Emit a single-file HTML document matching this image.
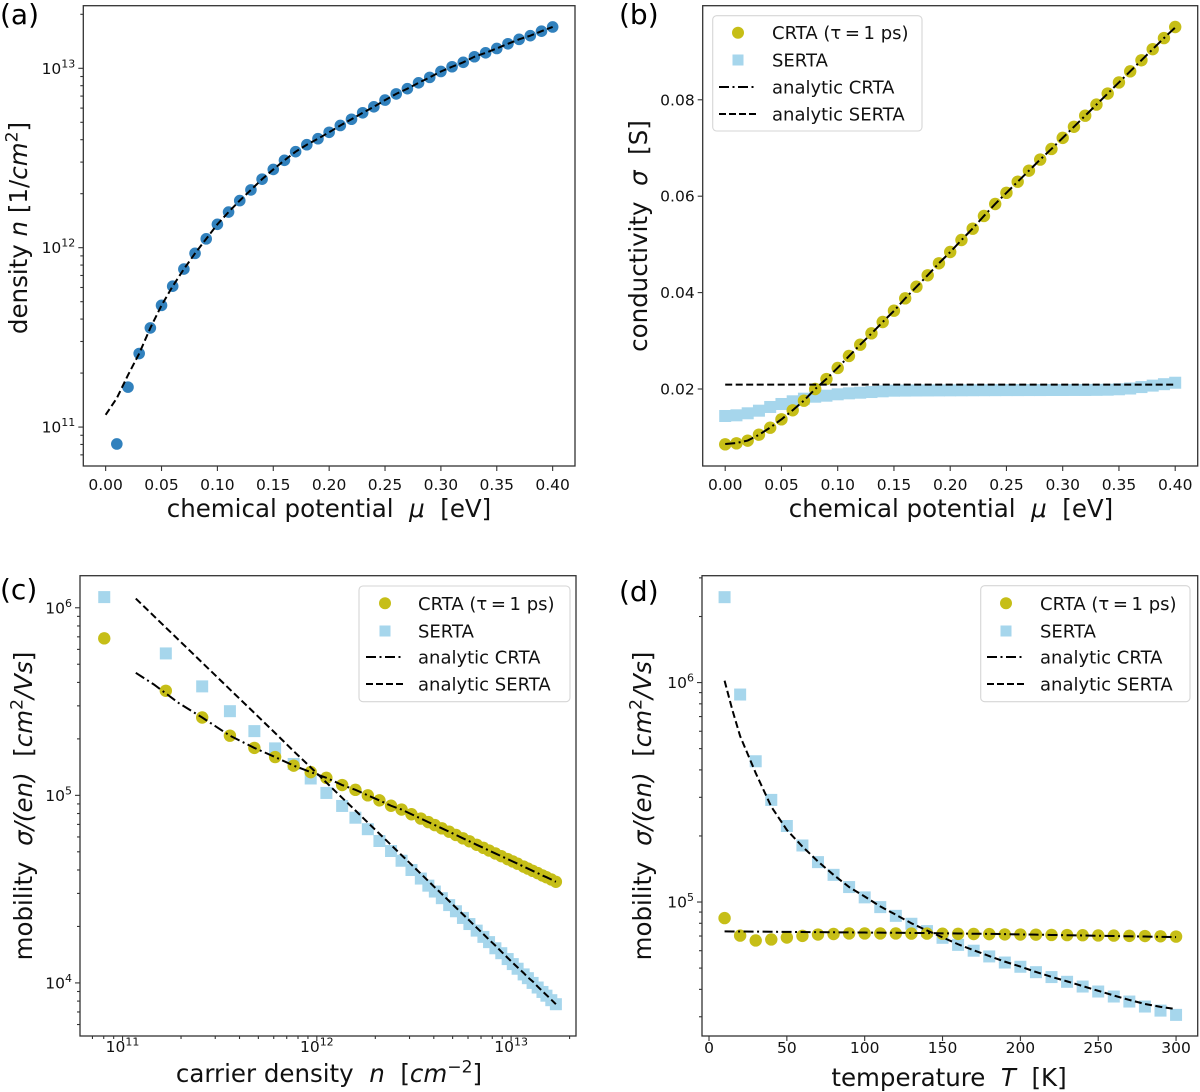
<!DOCTYPE html>
<html><head><meta charset="utf-8"><title>Transport figure</title>
<style>
html,body{margin:0;padding:0;background:#fff;}
svg{display:block;font-family:"DejaVu Sans","Liberation Sans",sans-serif;}
text{white-space:pre;}
</style></head>
<body>
<svg id="chart" xmlns="http://www.w3.org/2000/svg" width="1200" height="1092" viewBox="0 0 1200 1092"></svg>
<script>
// ---------- Panel (a) data ----------
const muA = [0.01,0.02,0.03,0.04,0.05,0.06,0.07,0.08,0.09,0.10,0.11,0.12,0.13,0.14,0.15,0.16,0.17,0.18,0.19,0.20,0.21,0.22,0.23,0.24,0.25,0.26,0.27,0.28,0.29,0.30,0.31,0.32,0.33,0.34,0.35,0.36,0.37,0.38,0.39,0.40];
const densA = [8.05e10,1.67e11,2.57e11,3.57e11,4.77e11,6.1e11,7.6e11,9.3e11,1.12e12,1.35e12,1.58e12,1.83e12,2.1e12,2.41e12,2.73e12,3.07e12,3.43e12,3.75e12,4.05e12,4.4e12,4.8e12,5.2e12,5.65e12,6.1e12,6.65e12,7.2e12,7.7e12,8.3e12,8.9e12,9.6e12,1.02e13,1.08e13,1.16e13,1.22e13,1.29e13,1.37e13,1.45e13,1.52e13,1.61e13,1.70e13];
const muAn = [0.00,0.01,0.02,0.03,0.04,0.05,0.06,0.07,0.08,0.09,0.10,0.11,0.12,0.13,0.14,0.15,0.16,0.17,0.18,0.19,0.20,0.21,0.22,0.23,0.24,0.25,0.26,0.27,0.28,0.29,0.30,0.31,0.32,0.33,0.34,0.35,0.36,0.37,0.38,0.39,0.40];
const densAn = [1.17e11,1.45e11,1.95e11,2.57e11,3.57e11,4.77e11,6.1e11,7.6e11,9.3e11,1.12e12,1.35e12,1.58e12,1.83e12,2.1e12,2.41e12,2.73e12,3.07e12,3.43e12,3.75e12,4.05e12,4.4e12,4.8e12,5.2e12,5.65e12,6.1e12,6.65e12,7.2e12,7.7e12,8.3e12,8.9e12,9.6e12,1.02e13,1.08e13,1.16e13,1.22e13,1.29e13,1.37e13,1.45e13,1.52e13,1.61e13,1.70e13];
const muTicks = [0.00,0.05,0.10,0.15,0.20,0.25,0.30,0.35,0.40];
const muTickLabels = ["0.00","0.05","0.10","0.15","0.20","0.25","0.30","0.35","0.40"];
const densTickExp = [11,12,13];

// ---------- Panel (b) data ----------
const muB = [0.00,0.01,0.02,0.03,0.04,0.05,0.06,0.07,0.08,0.09,0.10,0.11,0.12,0.13,0.14,0.15,0.16,0.17,0.18,0.19,0.20,0.21,0.22,0.23,0.24,0.25,0.26,0.27,0.28,0.29,0.30,0.31,0.32,0.33,0.34,0.35,0.36,0.37,0.38,0.39,0.40];
const crtaB = [0.00852,0.00873,0.00928,0.01052,0.01197,0.01371,0.01558,0.01757,0.0200,0.02207,0.02436,0.02685,0.02919,0.03155,0.0339,0.03624,0.03881,0.04122,0.04359,0.04608,0.04842,0.05091,0.05326,0.0559,0.05838,0.0607,0.0630,0.0653,0.0676,0.0698,0.0721,0.0744,0.0767,0.0790,0.0813,0.0836,0.0859,0.0882,0.0905,0.0928,0.0951];
const crtaAnB = [0.0086,0.0088,0.0093,0.0105,0.0120,0.0137,0.0156,0.0176,0.0200,0.0221,0.0244,0.0268,0.0292,0.0315,0.0339,0.0362,0.0388,0.0412,0.0436,0.0461,0.0484,0.0509,0.0533,0.0559,0.0584,0.0607,0.0630,0.0653,0.0676,0.0698,0.0721,0.0744,0.0767,0.0790,0.0813,0.0836,0.0859,0.0882,0.0905,0.0928,0.0950];
const sertaB = [0.0144,0.01454,0.01496,0.0155,0.01627,0.01689,0.01745,0.01799,0.0184,0.01861,0.0189,0.0191,0.01923,0.01937,0.01952,0.01965,0.01967,0.01969,0.0197,0.01971,0.01972,0.01973,0.01974,0.01975,0.01976,0.01977,0.01977,0.01978,0.01978,0.01979,0.01979,0.0198,0.0198,0.01982,0.01985,0.01994,0.0201,0.0204,0.0207,0.0210,0.0213];
const muAnSertaB = [0.00,0.40];
const sertaAnB = [0.0209,0.0209];
const condTicks = [0.02,0.04,0.06,0.08];
const condTickLabels = ["0.02","0.04","0.06","0.08"];

// ---------- Panel (c) data ----------
const crtaC = [6.87e5,3.61e5,2.6e5,2.08e5,1.79e5,1.6e5,1.44e5,1.33e5,1.24e5,1.135e5,1.07e5,1.0e5,9.4e4,8.8e4,8.4e4,7.93e4,7.52e4,7.2e4,6.94e4,6.67e4,6.4e4,6.15e4,5.9e4,5.69e4,5.45e4,5.25e4,5.08e4,4.9e4,4.74e4,4.57e4,4.44e4,4.32e4,4.17e4,4.07e4,3.96e4,3.85e4,3.74e4,3.66e4,3.56e4,3.46e4];
const sertaC = [1.14e6,5.71e5,3.81e5,2.81e5,2.2e5,1.78e5,1.47e5,1.23e5,1.03e5,8.78e4,7.6e4,6.6e4,5.71e4,5.05e4,4.48e4,4.0e4,3.6e4,3.3e4,3.07e4,2.83e4,2.6e4,2.41e4,2.22e4,2.06e4,1.9e4,1.76e4,1.65e4,1.53e4,1.44e4,1.34e4,1.26e4,1.19e4,1.11e4,1.06e4,1.0e4,9.45e3,8.95e3,8.55e3,8.09e3,7.7e3];
const crtaAnC = [4.5e5,3.9e5,3.1e5,2.6e5,2.08e5,1.79e5,1.6e5,1.44e5,1.33e5,1.24e5,1.135e5,1.07e5,1.0e5,9.4e4,8.8e4,8.4e4,7.93e4,7.52e4,7.2e4,6.94e4,6.67e4,6.4e4,6.15e4,5.9e4,5.69e4,5.45e4,5.25e4,5.08e4,4.9e4,4.74e4,4.57e4,4.44e4,4.32e4,4.17e4,4.07e4,3.96e4,3.85e4,3.74e4,3.66e4,3.56e4,3.46e4];
const sertaAnC = [1.12e6,9.03e5,6.72e5,5.1e5,3.67e5,2.75e5,2.15e5,1.72e5,1.41e5,1.17e5,9.7e4,8.3e4,7.16e4,6.24e4,5.44e4,4.8e4,4.27e4,3.82e4,3.49e4,3.23e4,2.98e4,2.73e4,2.52e4,2.32e4,2.15e4,1.97e4,1.82e4,1.70e4,1.58e4,1.47e4,1.36e4,1.28e4,1.21e4,1.13e4,1.07e4,1.02e4,9.56e3,9.03e3,8.62e3,8.14e3,7.7e3];
const nTickExp = [11,12,13];
const mobTickExpC = [4,5,6];

// ---------- Panel (d) data ----------
const tempD = [10,20,30,40,50,60,70,80,90,100,110,120,130,140,150,160,170,180,190,200,210,220,230,240,250,260,270,280,290,300];
const sertaD = [2.45e6,8.82e5,4.38e5,2.92e5,2.22e5,1.81e5,1.52e5,1.33e5,1.17e5,1.05e5,9.48e4,8.65e4,7.96e4,7.37e4,6.87e4,6.38e4,6.0e4,5.65e4,5.3e4,5.07e4,4.79e4,4.55e4,4.33e4,4.12e4,3.91e4,3.71e4,3.52e4,3.34e4,3.2e4,3.06e4];
const crtaD = [8.45e4,7.03e4,6.68e4,6.75e4,6.89e4,7.01e4,7.11e4,7.15e4,7.19e4,7.19e4,7.19e4,7.19e4,7.18e4,7.18e4,7.17e4,7.16e4,7.15e4,7.14e4,7.12e4,7.11e4,7.10e4,7.08e4,7.07e4,7.06e4,7.04e4,7.03e4,7.01e4,7.0e4,6.98e4,6.96e4];
const tempAnD = [10,15,20,30,40,50,60,70,80,90,100,110,120,130,140,150,160,170,180,190,200,210,220,230,240,250,260,270,280,290,300];
const sertaAnD = [1.02e6,7.5e5,5.7e5,3.87e5,2.72e5,2.13e5,1.79e5,1.53e5,1.33e5,1.17e5,1.06e5,9.55e4,8.75e4,8.0e4,7.42e4,6.9e4,6.42e4,6.03e4,5.67e4,5.35e4,5.08e4,4.8e4,4.56e4,4.35e4,4.14e4,3.94e4,3.75e4,3.58e4,3.43e4,3.33e4,3.25e4];
const crtaAnD = [7.35e4,7.34e4,7.34e4,7.33e4,7.32e4,7.31e4,7.30e4,7.29e4,7.28e4,7.27e4,7.26e4,7.25e4,7.24e4,7.23e4,7.22e4,7.2e4,7.19e4,7.17e4,7.16e4,7.14e4,7.12e4,7.1e4,7.08e4,7.06e4,7.04e4,7.02e4,7.0e4,6.98e4,6.96e4,6.94e4,6.92e4];
const tempTicks = [0,50,100,150,200,250,300];
const tempTickLabels = ["0","50","100","150","200","250","300"];
const mobTickExpD = [5,6];

// ---------- helpers ----------
const NS = "http://www.w3.org/2000/svg";
const svg = document.getElementById("chart");
const OLIVE = "#c6be17", SKY = "#a6d6ec", BLUE = "#3181bd", INK = "#333333";

function el(tag, parent){ const e = document.createElementNS(NS, tag); (parent||svg).appendChild(e); return e; }
function setA(e, o){ for (const k in o) e.setAttribute(k, o[k]); return e; }

const panels = {
  a:{x0:83.3,x1:575,y0:5.7,y1:466,xmin:-0.02,xmax:0.42,xlog:false,ymin:10.783,ymax:13.349,ylog:true},
  b:{x0:702.7,x1:1197.7,y0:5.7,y1:466,xmin:-0.02,xmax:0.42,xlog:false,ymin:0.004025,ymax:0.09952,ylog:false},
  c:{x0:80,x1:576,y0:575.7,y1:1036,xmin:10.781,xmax:13.334,xlog:true,ymin:3.717,ymax:6.171,ylog:true},
  d:{x0:702,x1:1197.7,y0:575.7,y1:1036,xmin:-4.5,xmax:313.9,xlog:false,ymin:4.3895,ymax:6.487,ylog:true}
};
function sx(p,v){ const t = p.xlog ? Math.log10(v) : v; return p.x0 + (t-p.xmin)/(p.xmax-p.xmin)*(p.x1-p.x0); }
function sy(p,v){ const t = p.ylog ? Math.log10(v) : v; return p.y1 - (t-p.ymin)/(p.ymax-p.ymin)*(p.y1-p.y0); }

function frame(p, g){
  const r = el("rect", g);
  setA(r,{x:p.x0,y:p.y0,width:p.x1-p.x0,height:p.y1-p.y0,fill:"none",stroke:INK,"stroke-width":1.3});
  
  
}
function tick(g,x1,y1,x2,y2){ const l = el("line",g); setA(l,{x1:x1,y1:y1,x2:x2,y2:y2,stroke:INK,"stroke-width":1.1}); return l; }
function label(g,x,y,txt,anchor,size){ const t = el("text",g); setA(t,{x:x,y:y,"text-anchor":anchor||"middle","font-size":size||15.5,fill:"#111"}); t.textContent = txt; return t; }
function powLabel(g,x,y,exp,anchor){
  const t = el("text",g); setA(t,{x:x,y:y,"text-anchor":anchor,"font-size":15.5,fill:"#111"});
  const a = el("tspan",t); a.textContent = "10";
  const b = el("tspan",t); setA(b,{"font-size":11,dy:-6.5}); b.textContent = String(exp);
  return t;
}
function linXTicks(p,g,vals,labs,base){
  vals.forEach((v,i)=>{ const x = sx(p,v); tick(g,x,p.y1,x,p.y1+5);
    const t = label(g,x,base,labs[i]);
    
     });
}
function linYTicks(p,g,vals,labs){
  vals.forEach((v,i)=>{ const y = sy(p,v); tick(g,p.x0-5,y,p.x0,y);
    const t = label(g,p.x0-8,y+5.5,labs[i],"end");
    
     });
}
function logYTicks(p,g,exps){
  for (let e=Math.floor(p.ymin); e<=Math.ceil(p.ymax); e++){
    for (let m=1;m<10;m++){ const lv = e+Math.log10(m); if (lv<p.ymin||lv>p.ymax) continue;
      const y = p.y1 - (lv-p.ymin)/(p.ymax-p.ymin)*(p.y1-p.y0);
      tick(g,p.x0-(m===1?5:3),y,p.x0,y); }
  }
  exps.forEach(e=>{ const y = sy(p,Math.pow(10,e)); const t = powLabel(g,p.x0-8,y+5.5,e,"end");
    
     });
}
function logXTicks(p,g,exps,base){
  for (let e=Math.floor(p.xmin); e<=Math.ceil(p.xmax); e++){
    for (let m=1;m<10;m++){ const lv = e+Math.log10(m); if (lv<p.xmin||lv>p.xmax) continue;
      const x = p.x0 + (lv-p.xmin)/(p.xmax-p.xmin)*(p.x1-p.x0);
      tick(g,x,p.y1,x,p.y1+(m===1?5:3)); }
  }
  exps.forEach(e=>{ const x = sx(p,Math.pow(10,e)); const t = powLabel(g,x,base,e,"middle");
    
     });
}
function circles(p,g,xs,ys,color,r,name){
  xs.forEach((xv,i)=>{ const c = el("circle",g); setA(c,{cx:sx(p,xv),cy:sy(p,ys[i]),r:r,fill:color});
    
     });
}
function squares(p,g,xs,ys,color,s,name){
  xs.forEach((xv,i)=>{ const q = el("rect",g); setA(q,{x:sx(p,xv)-s/2,y:sy(p,ys[i])-s/2,width:s,height:s,fill:color});
    
     });
}
const DASH = "7,3.5", DASHDOT = "10,3.5,2,3.5";
function line(p,g,xs,ys,dash,name){
  const d = xs.map((xv,i)=>(i?"L":"M")+sx(p,xv).toFixed(2)+","+sy(p,ys[i]).toFixed(2)).join("");
  const l = el("path",g); setA(l,{d:d,fill:"none",stroke:"#000","stroke-width":2,"stroke-dasharray":dash});
  
  
}
function legend(g,bx,by,bw,bh,mx,tx,rows){
  const r = el("rect",g); setA(r,{x:bx,y:by,width:bw,height:bh,rx:4,fill:"#fff","fill-opacity":0.85,stroke:"#d6d6d6","stroke-width":1.1});
  
  
  const texts = ["CRTA (\u03c4\u2009=\u20091 ps)","SERTA","analytic CRTA","analytic SERTA"];
  rows.forEach((y,i)=>{
    if (i===0){ const c = el("circle",g); setA(c,{cx:mx,cy:y,r:6,fill:OLIVE});
      
       }
    else if (i===1){ const q = el("rect",g); setA(q,{x:mx-5.5,y:y-5.5,width:11,height:11,fill:SKY});
      
       }
    else { const l = el("line",g); setA(l,{x1:mx-19,y1:y,x2:mx+19,y2:y,stroke:"#000","stroke-width":2,"stroke-dasharray":i===2?DASHDOT:"7,3"});
      
       }
    const t = label(g,tx,y+6.5,texts[i],"start",18);
    
    
  });
}
function richText(g,x,y,parts,size,rot){
  const t = el("text",g); setA(t,{x:x,y:y,"text-anchor":"middle","font-size":size,fill:"#111"});
  if (rot) t.setAttribute("transform","rotate(-90 "+x+" "+y+")");
  parts.forEach(pt=>{ const s = el("tspan",t); if (pt.i) s.setAttribute("font-style","italic");
    if (pt.sup){ s.setAttribute("font-size",size*0.7); s.setAttribute("dy",-size*0.38); }
    if (pt.down){ s.setAttribute("dy",size*0.38); }
    s.textContent = pt.t; });
  return t;
}
function panelLabel(x,y,txt){ const t = label(svg,x,y,txt,"start",28); t.setAttribute("fill","#000");
  
   }

// ---------- Panel (a) ----------
(function(){
  const p = panels.a; const g = el("g"); 
  
  circles(p,g,muA,densA,BLUE,5.8,'density-point');
  line(p,g,muAn,densAn,DASH,'analytic-density-line');
  frame(p,g);
  linXTicks(p,g,muTicks,muTickLabels,490);
  logYTicks(p,g,densTickExp);
  const xl = richText(g,329,517,[{t:"chemical potential  "},{t:"\u03bc",i:1},{t:"  [eV]"}],24.5);
  
  
  const yl = richText(g,27,228,[{t:"density "},{t:"n",i:1},{t:" [1/"},{t:"cm",i:1},{t:"2",sup:1},{t:"]",down:1}],24.5,true);
  
  
})();
panelLabel(0,24,"(a)");

// ---------- Panel (b) ----------
(function(){
  const p = panels.b; const g = el("g"); 
  
  squares(p,g,muB,sertaB,SKY,12,'serta-point');
  circles(p,g,muB,crtaB,OLIVE,6.2,'crta-point');
  line(p,g,muB,crtaAnB,DASHDOT,'analytic-crta-line');
  line(p,g,muAnSertaB,sertaAnB,DASH,'analytic-serta-line');
  frame(p,g);
  linXTicks(p,g,muTicks,muTickLabels,490);
  linYTicks(p,g,condTicks,condTickLabels);
  legend(g,712.7,15.7,209.3,115.3,738,772,[32.7,60,87,114]);
  const xl = richText(g,951,517,[{t:"chemical potential  "},{t:"\u03bc",i:1},{t:"  [eV]"}],24.5);
  
  
  const yl = richText(g,647,236,[{t:"conductivity  "},{t:"\u03c3",i:1},{t:"  [S]"}],24.5,true);
  
  
})();
panelLabel(619,24,"(b)");

// ---------- Panel (c) ----------
(function(){
  const p = panels.c; const g = el("g"); 
  
  squares(p,g,densA,sertaC,SKY,12,'serta-point');
  circles(p,g,densA,crtaC,OLIVE,6.2,'crta-point');
  line(p,g,densAn,crtaAnC,DASHDOT,'analytic-crta-line');
  line(p,g,densAn,sertaAnC,DASH,'analytic-serta-line');
  frame(p,g);
  logXTicks(p,g,nTickExp,1052);
  logYTicks(p,g,mobTickExpC);
  legend(g,359,586,211,115.7,385,418,[603.3,631,657,684]);
  const xl = richText(g,329,1082,[{t:"carrier density  "},{t:"n",i:1},{t:"  ["},{t:"cm",i:1},{t:"\u22122",sup:1},{t:"]",down:1}],24.5);
  
  
  const yl = richText(g,32,806,[{t:"mobility  "},{t:"\u03c3/(en)",i:1},{t:"  ["},{t:"cm",i:1},{t:"2",sup:1},{t:"/Vs",i:1,down:1},{t:"]"}],24.5,true);
  
  
})();
panelLabel(0,599,"(c)");

// ---------- Panel (d) ----------
(function(){
  const p = panels.d; const g = el("g"); 
  
  squares(p,g,tempD,sertaD,SKY,12,'serta-point');
  circles(p,g,tempD,crtaD,OLIVE,6.2,'crta-point');
  line(p,g,tempAnD,crtaAnD,DASHDOT,'analytic-crta-line');
  line(p,g,tempAnD,sertaAnD,DASH,'analytic-serta-line');
  frame(p,g);
  linXTicks(p,g,tempTicks,tempTickLabels,1053);
  logYTicks(p,g,mobTickExpD);
  legend(g,980.7,585.7,209.3,116,1006,1040,[603.3,631,657,684]);
  const xl = richText(g,949,1086,[{t:"temperature  "},{t:"T",i:1},{t:"  [K]"}],24.5);
  
  
  const yl = richText(g,651,806,[{t:"mobility  "},{t:"\u03c3/(en)",i:1},{t:"  ["},{t:"cm",i:1},{t:"2",sup:1},{t:"/Vs",i:1,down:1},{t:"]"}],24.5,true);
  
  
})();
panelLabel(619,601,"(d)");
</script>
</body></html>
